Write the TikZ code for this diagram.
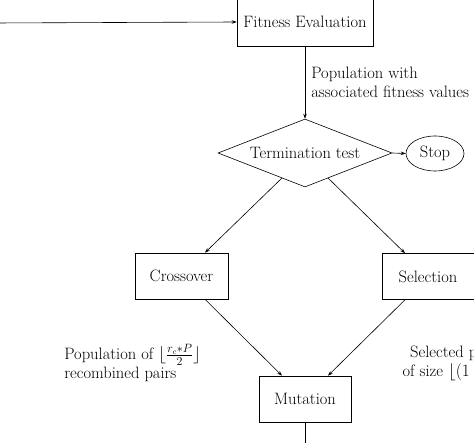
\documentclass[tikz,border=0pt]{standalone}
\usetikzlibrary{shapes.geometric,arrows.meta,calc}
\begin{document}
\begin{tikzpicture}[x=1pt,y=-1pt,
  every node/.style={font=\fontsize{16.5}{19}\selectfont},
  box/.style={draw,rectangle,minimum width=93pt,minimum height=46pt,inner sep=2pt},
  conn/.style={draw,line width=0.6pt,-{Stealth[length=5pt,width=3.5pt]}},
  lbl/.style={align=left,inner sep=0pt}]
\useasboundingbox (0,0) rectangle (474,443);
\clip (0,0) rectangle (474,443);
\tikzset{every path/.style={line width=0.6pt}}
\node[box,minimum width=136pt,minimum height=48pt] (fit) at (305,22) {Fitness Evaluation};
\node[draw,diamond,aspect=2.56,minimum width=174pt,minimum height=68pt,inner sep=0pt] (dia) at (305,153) {Termination test};
\node[draw,ellipse,minimum width=58pt,minimum height=35pt,inner sep=0pt] (stop) at (435,153.5) {Stop};
\node[box] (cross) at (181.5,276) {Crossover};
\node[box,minimum width=92pt] (sel) at (428,276.5) {Selection};
\node[box,minimum width=92pt] (mut) at (305,399) {Mutation};
\coordinate (in) at (-5,23);
\coordinate (out) at (305,450);
\node[lbl,anchor=west] (l1) at (311,82.5) {Population with\\associated fitness values};
\node[lbl,anchor=west] (l2) at (64,363) {Population of $\lfloor\frac{r_c*P}{2}\rfloor$\\recombined pairs};
\node[align=center,inner sep=0pt] (l3) at (475,363) {Selected population\\of size $\lfloor(1-r_c)*P\rfloor$};
\draw[conn] (in) -- (fit.west);
\draw[conn] (fit.south) -- (dia.north);
\draw[conn] (dia.east) -- (stop.west);
\draw[conn] ([xshift=-23pt,yshift=-25pt]dia.center) -- ([xshift=23.5pt]cross.north);
\draw[conn] ([xshift=23pt,yshift=-25pt]dia.center) -- ([xshift=-23pt]sel.north);
\draw[conn] ([xshift=23.5pt]cross.south) -- ([xshift=-23pt]mut.north);
\draw[conn] ([xshift=-23pt]sel.south) -- ([xshift=23pt]mut.north);
\draw (mut.south) -- (out);
\end{tikzpicture}
\end{document}
